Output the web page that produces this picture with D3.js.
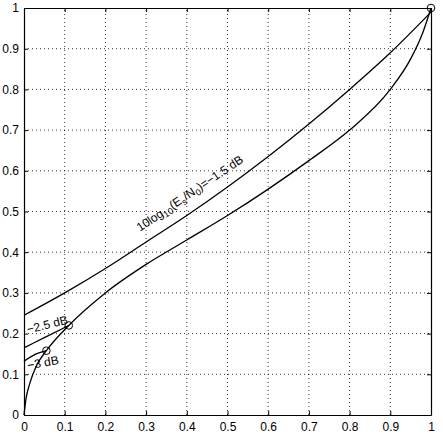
<!DOCTYPE html>
<html><head><meta charset="utf-8">
<script src="https://cdn.jsdelivr.net/npm/d3@7"></script>
<style>body{margin:0;background:#fff}text{font-family:"Liberation Sans",Arial,sans-serif}</style>
</head><body><svg id="c" width="443" height="438"></svg>
<script>
const ticks = [0, 0.1, 0.2, 0.3, 0.4, 0.5, 0.6, 0.7, 0.8, 0.9, 1];
const curve15 = [[0,0.245],[0.1,0.30],[0.2,0.36],[0.3,0.425],[0.4,0.49],[0.5,0.56],[0.6,0.635],[0.7,0.715],[0.8,0.80],[0.9,0.89],[1,0.99]];
const decoder = [[0,0],[0.005,0.04],[0.015,0.08],[0.03,0.12],[0.055,0.158],[0.11,0.22],[0.2,0.30],[0.3,0.37],[0.4,0.43],[0.5,0.49],[0.6,0.555],[0.7,0.625],[0.8,0.70],[0.9,0.80],[0.95,0.875],[0.98,0.94],[1,1]];
const curve25 = [[0,0.165],[0.05,0.19],[0.11,0.22]];
const curve3 = [[0,0.132],[0.03,0.15],[0.055,0.158]];
const points = [[0.055,0.158],[0.11,0.22],[1,1]];

const svg = d3.select('#c');
const m = {left: 24, right: 12, top: 8, bottom: 23};
const W = 443, H = 438;
const x = d3.scaleLinear().domain([0,1]).range([m.left, W - m.right]);
const y = d3.scaleLinear().domain([0,1]).range([H - m.bottom, m.top]);

// grid
svg.append('g').selectAll('line.v').data(ticks.slice(1,-1)).join('line')
  .attr('x1', d => x(d)).attr('x2', d => x(d)).attr('y1', y(0)).attr('y2', y(1))
  .attr('stroke', '#000').attr('stroke-width', 0.8).attr('stroke-dasharray', '1,3');
svg.append('g').selectAll('line.h').data(ticks.slice(1,-1)).join('line')
  .attr('y1', d => y(d)).attr('y2', d => y(d)).attr('x1', x(0)).attr('x2', x(1))
  .attr('stroke', '#000').attr('stroke-width', 0.8).attr('stroke-dasharray', '1,3');

const xa = svg.append('g').attr('transform', `translate(0,${y(0)})`)
  .call(d3.axisBottom(x).tickValues(ticks).tickFormat(d3.format('')).tickSizeInner(-4).tickSizeOuter(0));
const ya = svg.append('g').attr('transform', `translate(${x(0)},0)`)
  .call(d3.axisLeft(y).tickValues(ticks).tickFormat(d3.format('')).tickSizeInner(-4).tickSizeOuter(0));
svg.append('g').attr('transform', `translate(0,${y(1)})`)
  .call(d3.axisTop(x).tickValues(ticks).tickFormat('').tickSizeInner(-4).tickSizeOuter(0));
svg.append('g').attr('transform', `translate(${x(1)},0)`)
  .call(d3.axisRight(y).tickValues(ticks).tickFormat('').tickSizeInner(-4).tickSizeOuter(0));
svg.selectAll('.tick text').attr('font-size', 12).attr('fill', '#000');
xa.selectAll('.tick text').attr('dy', '1.05em');
ya.selectAll('.tick text').attr('x', -5);
svg.selectAll('.domain').attr('stroke', '#000').attr('stroke-width', 1.2);

const line = d3.line().x(d => x(d[0])).y(d => y(d[1])).curve(d3.curveMonotoneX);
[curve15, decoder, curve25, curve3].forEach(c => {
  svg.append('path').datum(c).attr('d', line).attr('fill', 'none').attr('stroke', '#000').attr('stroke-width', 1.3);
});
svg.selectAll('circle').data(points).join('circle')
  .attr('cx', d => x(d[0])).attr('cy', d => y(d[1])).attr('r', 3.8)
  .attr('fill', 'none').attr('stroke', '#000');

const lbl = svg.append('text').attr('font-size', 12)
  .attr('transform', `translate(${x(0.285)},${y(0.45)}) rotate(-34)`);
lbl.append('tspan').text('10log');
lbl.append('tspan').attr('font-size', 9).attr('dy', 3).text('10');
lbl.append('tspan').attr('dy', -3).text('(E');
lbl.append('tspan').attr('font-size', 9).attr('dy', 3).text('s');
lbl.append('tspan').attr('dy', -3).text('/N');
lbl.append('tspan').attr('font-size', 9).attr('dy', 3).text('0');
lbl.append('tspan').attr('dy', -3).text(')=−1.5 dB');

svg.append('text').attr('font-size', 12)
  .attr('transform', `translate(${x(0.01)},${y(0.2)}) rotate(-14)`).text('−2.5 dB');
svg.append('text').attr('font-size', 12)
  .attr('transform', `translate(${x(0.01)},${y(0.112)}) rotate(-10)`).text('−3 dB');
</script></body></html>
